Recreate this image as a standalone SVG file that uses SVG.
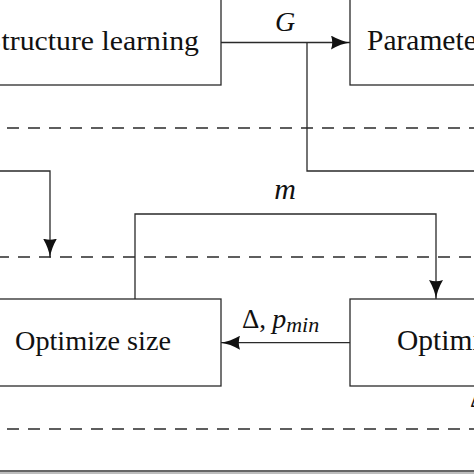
<svg xmlns="http://www.w3.org/2000/svg" width="474" height="474" viewBox="0 0 474 474">
<style>
.box{fill:#fff;stroke:#2a2a2a;stroke-width:1.3}
.ln{fill:none;stroke:#2a2a2a;stroke-width:1.3}
.dash{fill:none;stroke:#2a2a2a;stroke-width:1.3;stroke-dasharray:12 9}
</style>
<defs>
<marker id="ah" viewBox="0 0 19 14" refX="19" refY="7" markerWidth="19" markerHeight="14" markerUnits="userSpaceOnUse" orient="auto">
<path d="M0,0 Q10,5.8 19,7 Q10,8.2 0,14 Q2.5,7 0,0 Z" fill="#111"/>
</marker>
</defs>
<rect width="474" height="474" fill="#fff"/>
<g id="separators">
<line class="dash" x1="0" y1="128" x2="474" y2="128" stroke-dashoffset="14"/>
<line class="dash" x1="0" y1="257" x2="474" y2="257" stroke-dashoffset="3"/>
<line class="dash" x1="0" y1="429" x2="474" y2="429" stroke-dashoffset="14"/>
<line x1="0" y1="471" x2="474" y2="471" stroke="#333" stroke-width="1.5"/>
<rect x="0" y="472" width="474" height="2" fill="#bdbdbd"/>
</g>
<g id="connectors">
<path class="ln" d="M221,42.5 H350" marker-end="url(#ah)"/>
<path class="ln" d="M307,42.5 V171 H480"/>
<path class="ln" d="M-5,171 H50 V257.5" marker-end="url(#ah)"/>
<path class="ln" d="M135,299 V214 H436 V299" marker-end="url(#ah)"/>
<path class="ln" d="M350,342.7 H221" marker-end="url(#ah)"/>
<text x="285" y="31" text-anchor="middle" style="font-family:'Liberation Serif',serif;font-style:italic;font-size:28px;fill:#111">G</text>
<text x="285" y="199" text-anchor="middle" style="font-family:'Liberation Serif',serif;font-style:italic;font-size:30px;fill:#111">m</text>
<text x="242" y="328" style="font-family:'Liberation Serif',serif;font-size:27px;fill:#111">Δ,<tspan dx="6" style="font-style:italic;font-size:28px">p</tspan><tspan dy="4" style="font-style:italic;font-size:22px">min</tspan></text>
<text x="470" y="407" style="font-family:'Liberation Serif',serif;font-size:27px;fill:#111">Δ</text>
</g>
<g id="structure-learning">
<rect class="box" x="-100" y="-100" width="321" height="185"/>
<text x="-15" y="50" textLength="214" lengthAdjust="spacingAndGlyphs" style="font-family:'Liberation Serif',serif;font-size:28px;fill:#111">Structure learning</text>
</g>
<g id="parameter-learning">
<rect class="box" x="350" y="-100" width="300" height="185"/>
<text x="367" y="50" style="font-family:'Liberation Serif',serif;font-size:29.5px;fill:#111">Parameter learning</text>
</g>
<g id="optimize-size">
<rect class="box" x="-100" y="299" width="321" height="87"/>
<text x="15" y="350" textLength="156" lengthAdjust="spacingAndGlyphs" style="font-family:'Liberation Serif',serif;font-size:28px;fill:#111">Optimize size</text>
</g>
<g id="optimize-right">
<rect class="box" x="350" y="299" width="300" height="87"/>
<text x="397" y="350" style="font-family:'Liberation Serif',serif;font-size:29.5px;fill:#111">Optimize</text>
</g>
</svg>
